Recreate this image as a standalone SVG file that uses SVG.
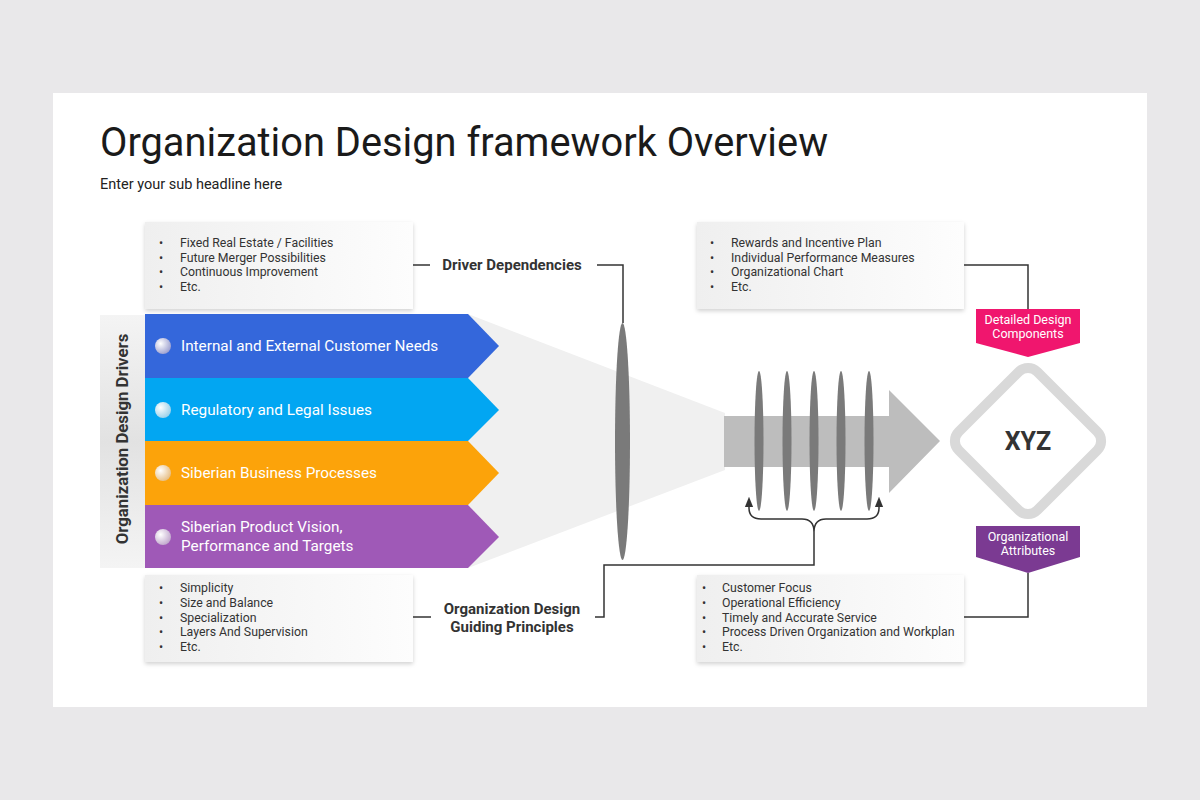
<svg xmlns="http://www.w3.org/2000/svg" width="1200" height="800" viewBox="0 0 1200 800">
<defs>
<style>
.t{font-family:Roboto,"Liberation Sans",sans-serif;}
.title{font-size:39.8px;fill:#1a1a1a;}
.sub{font-size:14.5px;fill:#222;}
.li{font-size:12.3px;fill:#333;}
.lbl{font-size:15px;font-weight:bold;fill:#333;}
.chev{font-size:15.3px;fill:#fff;}
.tag{font-size:12.5px;fill:#fff;text-anchor:middle;}
.ln{fill:none;stroke:#333;stroke-width:1.5;}
.box{fill:url(#boxg);filter:url(#sh);}
.lens{fill:#7a7a7a;}
</style>
<linearGradient id="boxg" x1="0" y1="0" x2="1" y2="0"><stop offset="0" stop-color="#efefef"/><stop offset="1" stop-color="#fdfdfd"/></linearGradient>
<linearGradient id="band" x1="0" y1="0" x2="0" y2="1"><stop offset="0" stop-color="#f4f4f4"/><stop offset="0.5" stop-color="#e2e2e2"/><stop offset="1" stop-color="#f4f4f4"/></linearGradient>
<radialGradient id="c1" cx="0.35" cy="0.35" r="0.8"><stop offset="0" stop-color="#ffffff"/><stop offset="1" stop-color="#8e92c8"/></radialGradient>
<radialGradient id="c2" cx="0.35" cy="0.35" r="0.8"><stop offset="0" stop-color="#ffffff"/><stop offset="1" stop-color="#8cc9e6"/></radialGradient>
<radialGradient id="c3" cx="0.35" cy="0.35" r="0.8"><stop offset="0" stop-color="#ffffff"/><stop offset="1" stop-color="#e2b472"/></radialGradient>
<radialGradient id="c4" cx="0.35" cy="0.35" r="0.8"><stop offset="0" stop-color="#ffffff"/><stop offset="1" stop-color="#b79bc5"/></radialGradient>
<filter id="sh" x="-10%" y="-20%" width="120%" height="150%"><feDropShadow dx="0" dy="2" stdDeviation="2" flood-color="#000" flood-opacity="0.18"/></filter>
<marker id="ah" viewBox="0 0 10 10" refX="5" refY="5" markerWidth="7" markerHeight="7" orient="auto-start-reverse"><path d="M0,1 L10,5 L0,9 Z" fill="#333"/></marker>
</defs>
<rect width="1200" height="800" fill="#e9e8ea"/>
<rect x="53" y="93" width="1094" height="614" fill="#fff"/>
<text class="t title" x="100" y="156">Organization Design framework Overview</text>
<text class="t sub" x="100" y="189">Enter your sub headline here</text>

<!-- funnel background -->
<polygon points="468,314 725,413 725,470 468,568" fill="#f0f0f0"/>

<!-- left band -->
<g id="drivers-band">
<rect x="100" y="315" width="45" height="253" fill="url(#band)"/>
<text class="t lbl" style="font-size:16.8px" transform="translate(128,439) rotate(-90)" text-anchor="middle">Organization Design Drivers</text>
</g>

<!-- chevrons -->
<g id="chev1"><polygon points="145,314 468,314 499,346 468,378 145,378" fill="#3467db"/><circle cx="163" cy="346" r="8" fill="url(#c1)"/><text class="t chev" x="181" y="351">Internal and External Customer Needs</text></g>
<g id="chev2"><polygon points="145,378 468,378 499,410 468,441 145,441" fill="#02a6f2"/><circle cx="163" cy="410" r="8" fill="url(#c2)"/><text class="t chev" x="181" y="415">Regulatory and Legal Issues</text></g>
<g id="chev3"><polygon points="145,441 468,441 499,473 468,505 145,505" fill="#fca30a"/><circle cx="163" cy="473" r="8" fill="url(#c3)"/><text class="t chev" x="181" y="478">Siberian Business Processes</text></g>
<g id="chev4"><polygon points="145,505 468,505 499,537 468,568 145,568" fill="#9f59b7"/><circle cx="163" cy="537" r="8" fill="url(#c4)"/><text class="t chev" x="181" y="532">Siberian Product Vision,</text><text class="t chev" x="181" y="551">Performance and Targets</text></g>

<!-- boxes -->
<g id="box-tl"><rect class="box" x="145" y="222" width="268" height="87"/>
<g class="t li"><text x="159" y="247">•</text><text x="180" y="247">Fixed Real Estate / Facilities</text>
<text x="159" y="262">•</text><text x="180" y="262">Future Merger Possibilities</text>
<text x="159" y="276">•</text><text x="180" y="276">Continuous Improvement</text>
<text x="159" y="291">•</text><text x="180" y="291">Etc.</text></g></g>

<g id="box-bl"><rect class="box" x="145" y="575" width="268" height="87"/>
<g class="t li"><text x="159" y="592">•</text><text x="180" y="592">Simplicity</text>
<text x="159" y="607">•</text><text x="180" y="607">Size and Balance</text>
<text x="159" y="622">•</text><text x="180" y="622">Specialization</text>
<text x="159" y="636">•</text><text x="180" y="636">Layers And Supervision</text>
<text x="159" y="651">•</text><text x="180" y="651">Etc.</text></g></g>

<g id="box-tr"><rect class="box" x="697" y="222" width="267" height="87"/>
<g class="t li"><text x="710" y="247">•</text><text x="731" y="247">Rewards and Incentive Plan</text>
<text x="710" y="262">•</text><text x="731" y="262">Individual Performance Measures</text>
<text x="710" y="276">•</text><text x="731" y="276">Organizational Chart</text>
<text x="710" y="291">•</text><text x="731" y="291">Etc.</text></g></g>

<g id="box-br"><rect class="box" x="697" y="575" width="267" height="87"/>
<g class="t li"><text x="702" y="592">•</text><text x="722" y="592">Customer Focus</text>
<text x="702" y="607">•</text><text x="722" y="607">Operational Efficiency</text>
<text x="702" y="622">•</text><text x="722" y="622">Timely and Accurate Service</text>
<text x="702" y="636">•</text><text x="722" y="636">Process Driven Organization and Workplan</text>
<text x="702" y="651">•</text><text x="722" y="651">Etc.</text></g></g>

<!-- labels -->
<g id="lbl-dd"><text class="t lbl" x="512" y="270" text-anchor="middle">Driver Dependencies</text></g>
<g id="lbl-gp"><text class="t lbl" x="512" y="614" text-anchor="middle">Organization Design</text><text class="t lbl" x="512" y="632" text-anchor="middle">Guiding Principles</text></g>

<!-- gray arrow -->
<g id="main-arrow"><polygon points="724,416 889,416 889,390 940,441 889,493 889,467 724,467" fill="#bdbdbd"/></g>

<!-- lenses -->
<g id="lenses">
<ellipse class="lens" cx="622.5" cy="441.5" rx="7.5" ry="118.5"/>
<ellipse class="lens" cx="759" cy="441" rx="4.5" ry="70"/>
<ellipse class="lens" cx="787" cy="441" rx="4.5" ry="70"/>
<ellipse class="lens" cx="814" cy="441" rx="4.5" ry="70"/>
<ellipse class="lens" cx="841" cy="441" rx="4.5" ry="70"/>
<ellipse class="lens" cx="869" cy="441" rx="4.5" ry="70"/>
</g>

<!-- XYZ diamond -->
<g id="xyz">
<rect x="972.5" y="385.5" width="111" height="111" rx="13" fill="#fff" stroke="#d9d9d9" stroke-width="10" transform="rotate(45 1028 441)"/>
<text class="t" x="1028" y="450" text-anchor="middle" font-size="25" font-weight="bold" fill="#333">XYZ</text>
</g>

<g id="tag-ddc"><polygon points="976,309 1080,309 1080,343 1028,357 976,343" fill="#f0166e"/><text class="t tag" x="1028" y="324">Detailed Design</text><text class="t tag" x="1028" y="338">Components</text></g>
<g id="tag-oa"><polygon points="976,526 1080,526 1080,557 1028,573 976,557" fill="#7b3a92"/><text class="t tag" x="1028" y="541">Organizational</text><text class="t tag" x="1028" y="555">Attributes</text></g>

<!-- connectors -->
<g id="connectors">
<path class="ln" d="M413,265 H430"/>
<path class="ln" d="M597,265 H623 V323"/>
<path class="ln" d="M413,617 H431"/>
<path class="ln" d="M595,617 H604 V565 H814 V532"/>
<path class="ln" d="M749,502 V508 Q749,519 761,519 H802 Q814,519 814,532 Q814,519 826,519 H867 Q879,519 879,508 V502" marker-start="url(#ah)" marker-end="url(#ah)"/>
<path class="ln" d="M964,265 H1028 V309"/>
<path class="ln" d="M1028,573 V617 H964"/>
</g>
</svg>
